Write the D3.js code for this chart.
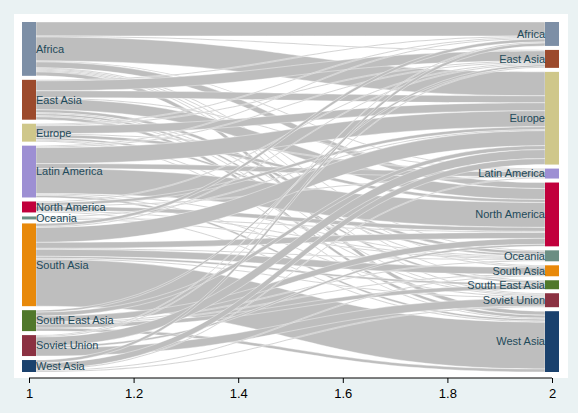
<!DOCTYPE html>
<html lang="en">
<head>
<meta charset="UTF-8">
<script src="https://cdn.jsdelivr.net/npm/d3@7"></script>
<style>body{margin:0;background:#eaf2f3;}</style>
</head>
<body>
<script>
var regions = ["Africa","East Asia","Europe","Latin America","North America","Oceania","South Asia","South East Asia","Soviet Union","West Asia"];
var colors = ["#7d8fa6","#9c4a2c","#cfc78a","#9d8fd3","#c1003c","#6b8e83","#e8890a","#50782b","#8b3142","#1a416d"];
// flows[origin][destination]
var flows = [
  [14,1,24,1,6,1,1,1,1,4],
  [1,10,7,1,11,3,1,2,1,3],
  [1,1,8,1,3,2,0,0,1,1],
  [1,1,16,5,25,1,0,0,1,2],
  [0,1,3,1,4,1,0,0,0,1],
  [0,0,1,0,1,1,0,0,0,0],
  [3,1,15,0,6,1,7,2,1,47],
  [0,2,4,0,6,1,1,4,0,3],
  [1,1,9,0,2,0,0,0,8,0],
  [3,0,6,1,0,0,1,0,1,0]
];
var ticks = [1,1.2,1.4,1.6,1.8,2];

var width = 578, height = 413;
var svg = d3.select("body").append("svg").attr("width", width).attr("height", height);
svg.append("rect").attr("x",14).attr("y",14).attr("width",554).attr("height",364).attr("fill","white");

var x = d3.scaleLinear().domain([1,2]).range([29,552]);
var yTop = 22, yBottom = 372, gap = 4, nodeW = 14;
var total = d3.sum(flows, function(r){ return d3.sum(r); });
var k = (yBottom - yTop - gap*(regions.length-1)) / total;

var outTot = flows.map(function(r){ return d3.sum(r); });
var inTot = regions.map(function(d,j){ return d3.sum(flows, function(r){ return r[j]; }); });

function layout(tots){
  var y = yTop;
  return tots.map(function(t){ var n = {y0:y, y1:y + t*k}; y = n.y1 + gap; return n; });
}
var left = layout(outTot), right = layout(inTot);

var lx0 = x(1) - 7, rx0 = x(2) - 7;
var links = [];
var outOff = left.map(function(n){ return n.y0; });
var inOff = right.map(function(n){ return n.y0; });
flows.forEach(function(r,i){ r.forEach(function(v,j){ links.push({i:i,j:j,v:v}); }); });
// source side ordered by target, target side ordered by source
links.forEach(function(l){ l.sy0 = outOff[l.i]; outOff[l.i] += l.v*k; l.sy1 = outOff[l.i]; });
links.slice().sort(function(a,b){ return a.j-b.j || a.i-b.i; })
  .forEach(function(l){ l.ty0 = inOff[l.j]; inOff[l.j] += l.v*k; l.ty1 = inOff[l.j]; });

var xa = lx0 + nodeW, xb = rx0, xm = (xa+xb)/2;
svg.append("g").selectAll("path").data(links.filter(function(l){ return l.v > 0; }))
  .enter().append("path")
  .attr("d", function(l){
    return "M"+xa+","+l.sy0+"C"+xm+","+l.sy0+" "+xm+","+l.ty0+" "+xb+","+l.ty0+
      "L"+xb+","+l.ty1+"C"+xm+","+l.ty1+" "+xm+","+l.sy1+" "+xa+","+l.sy1+"Z";
  })
  .attr("fill","#bebebe").attr("stroke","white").attr("stroke-width",0.4);

function nodes(data, x0, anchor, tx){
  var g = svg.append("g");
  g.selectAll("rect").data(data).enter().append("rect")
    .attr("x", x0).attr("y", function(d){ return d.y0; })
    .attr("width", nodeW).attr("height", function(d){ return d.y1-d.y0; })
    .attr("fill", function(d,i){ return colors[i]; });
  g.selectAll("text").data(data).enter().append("text")
    .attr("x", tx).attr("y", function(d){ return (d.y0+d.y1)/2; })
    .attr("dy","0.35em").attr("text-anchor", anchor)
    .attr("font-family","Arial, Liberation Sans, sans-serif").attr("font-size","11px")
    .attr("fill","#1e4a5a")
    .text(function(d,i){ return regions[i]; });
}
nodes(left, lx0, "start", lx0 + nodeW);
nodes(right, rx0, "end", rx0);

var axis = svg.append("g").attr("transform","translate(0,378)")
  .call(d3.axisBottom(x).tickValues(ticks).tickSize(5).tickPadding(6).tickFormat(d3.format("")));
axis.select(".domain").attr("d","M"+x(1)+",0H"+x(2)).attr("stroke","#000");
axis.selectAll("text").attr("font-family","Arial, Liberation Sans, sans-serif").attr("font-size","13px").attr("fill","#000");
</script>
</body>
</html>
